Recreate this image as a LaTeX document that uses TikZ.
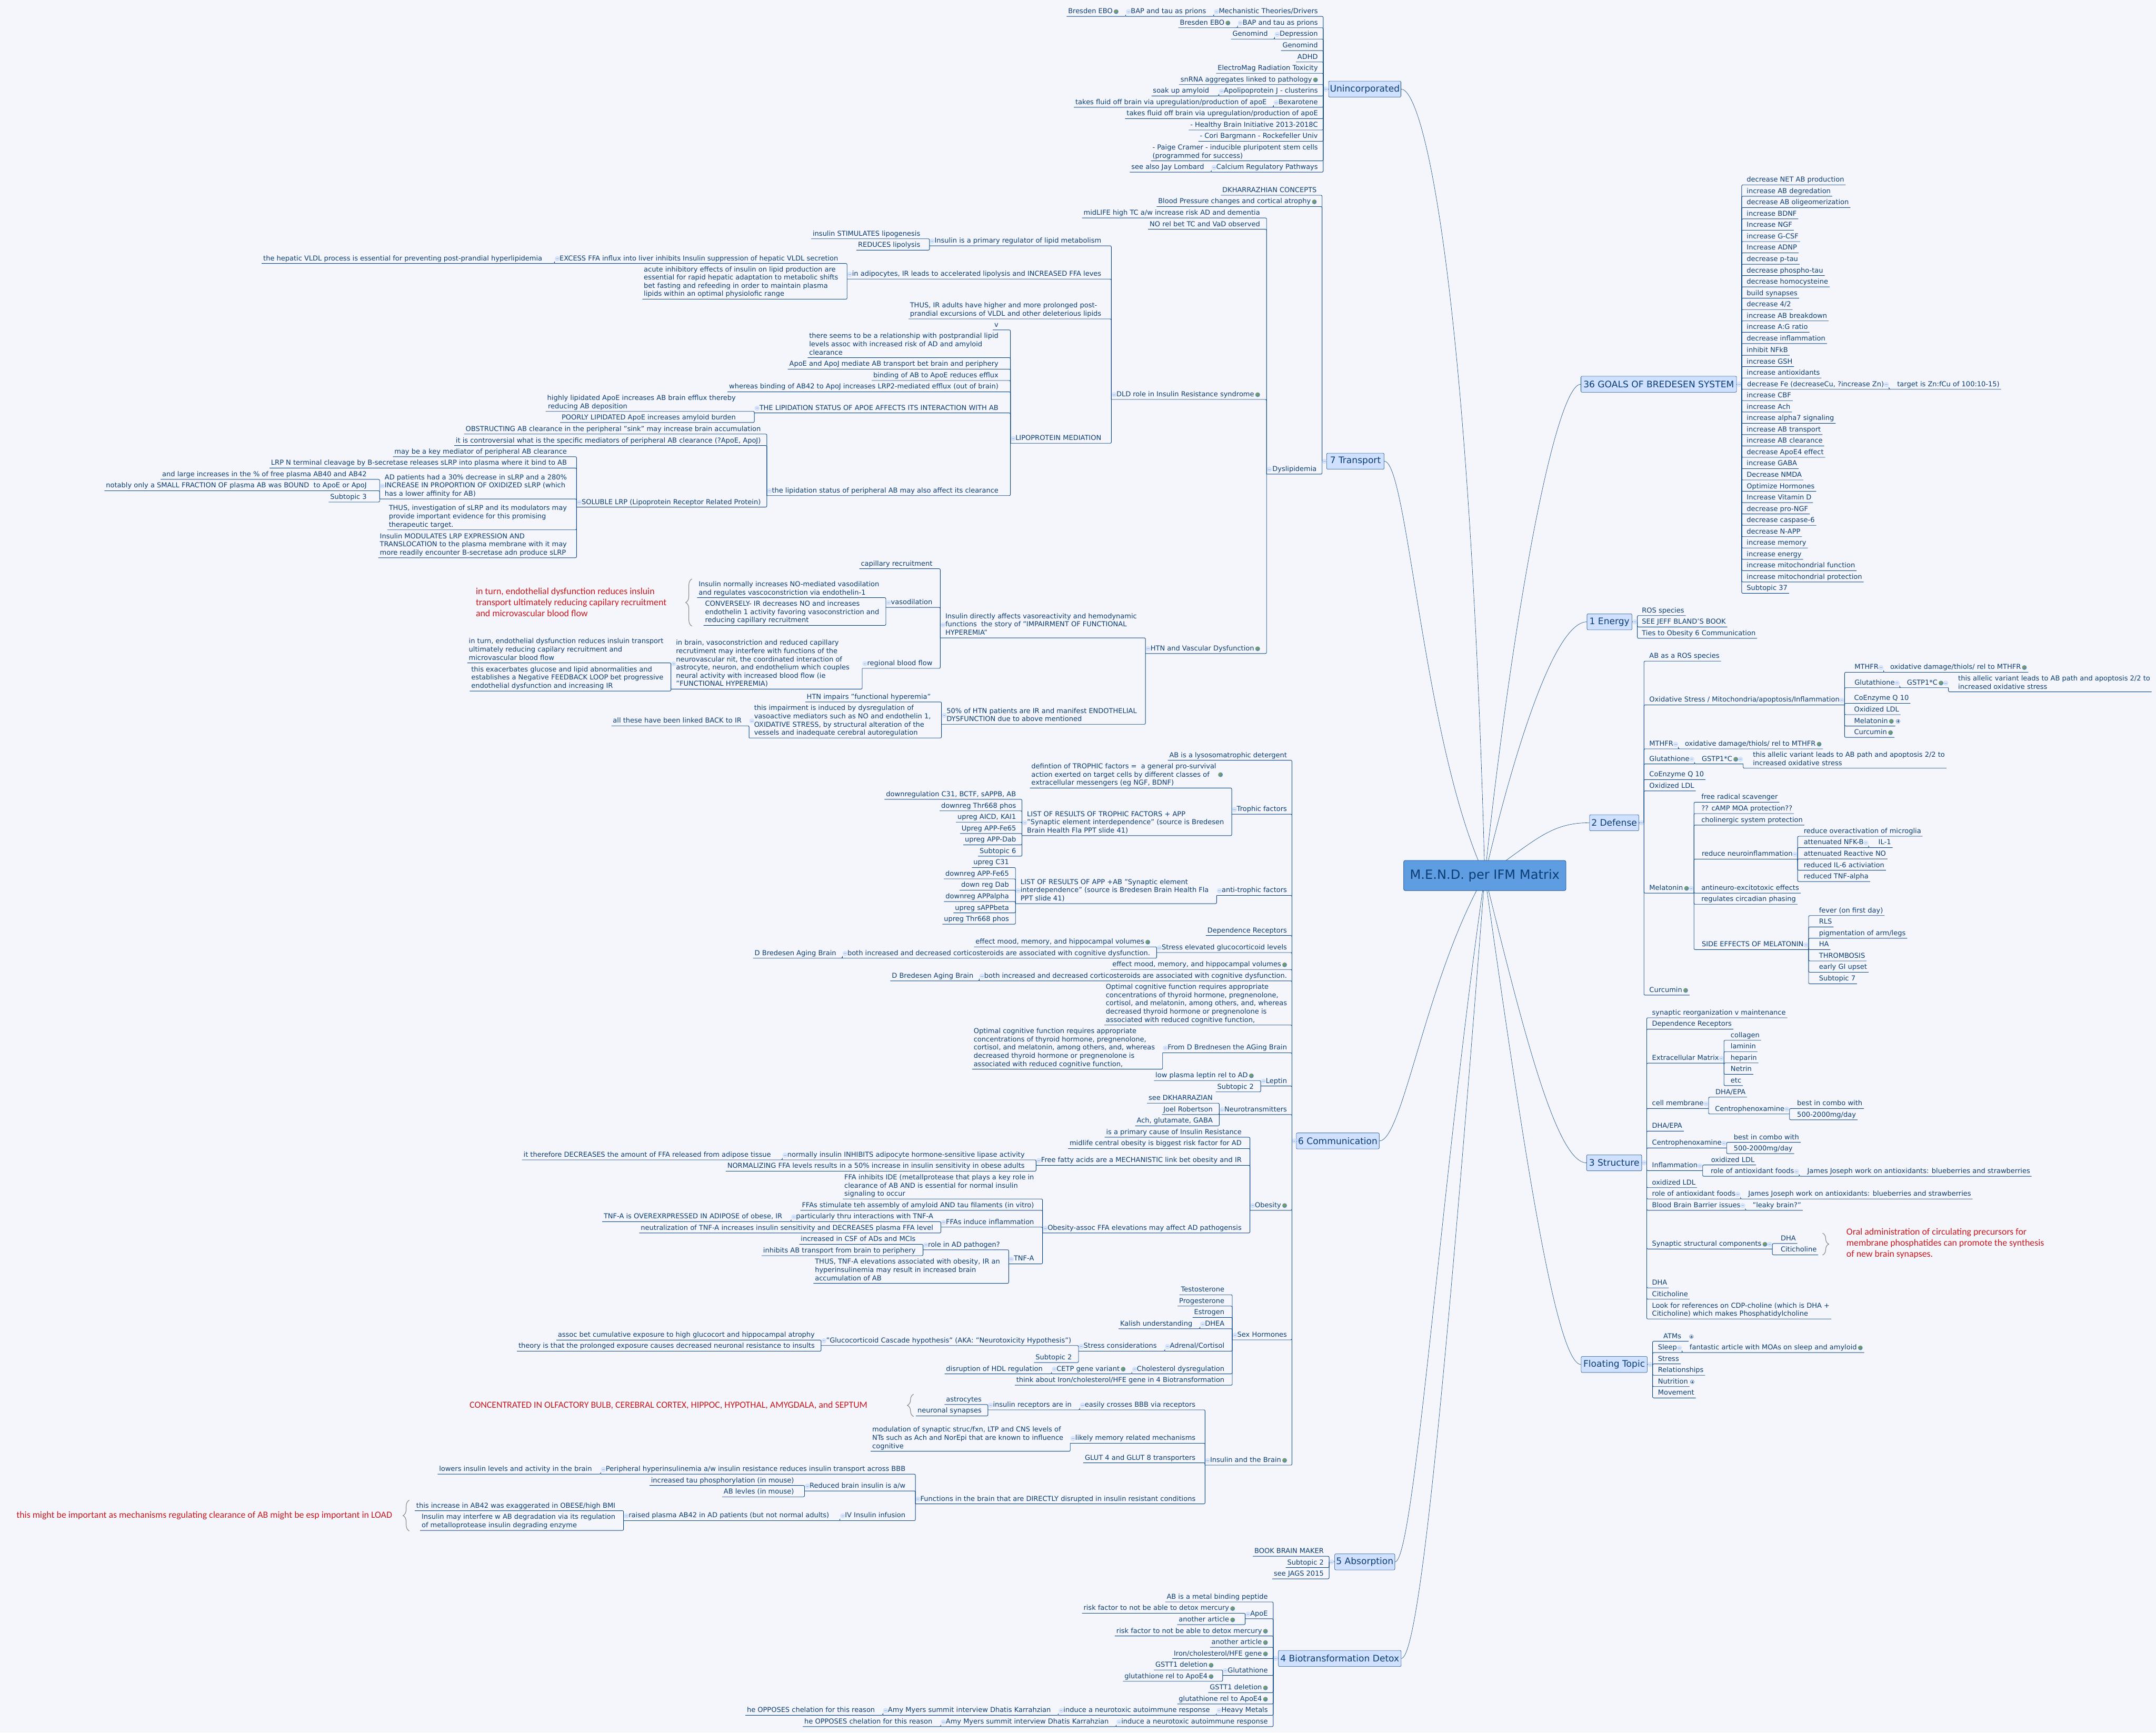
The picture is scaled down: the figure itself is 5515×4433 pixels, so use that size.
\documentclass[tikz,border=0pt]{standalone}
\usepackage{fontspec}
\setmainfont{DejaVu Sans}
\newfontfamily\handfont{Carlito}
\usetikzlibrary{decorations.pathreplacing}

\definecolor{paper}{HTML}{F4F6FC}
\definecolor{inkblue}{HTML}{0B3D73}
\definecolor{linkblue}{HTML}{0A4583}
\definecolor{boxfill}{HTML}{D0E0FF}
\definecolor{foldfill}{HTML}{D9E6FC}
\definecolor{foldline}{HTML}{BDD2F2}
\definecolor{foldink}{HTML}{8FB0E0}
\definecolor{mendfill}{HTML}{5F9DE3}
\definecolor{redink}{HTML}{C8191E}
\definecolor{sea}{HTML}{5C8DA8}
\definecolor{land}{HTML}{7FA05A}

\tikzstyle{leafbase}=[align=left,text=inkblue,font=\fontsize{17.5}{21}\selectfont,text depth=4pt,inner ysep=3.5pt,outer sep=0pt]
\tikzstyle{fold}=[circle,inner sep=0pt,minimum size=12pt,fill=foldfill,draw=foldline,line width=.4pt,path picture={\draw[foldink,line width=.8pt] ([xshift=-3pt]path picture bounding box.center) -- ([xshift=3pt]path picture bounding box.center);}]
\tikzstyle{foldplus}=[circle,inner sep=0pt,minimum size=10pt,fill=foldfill,draw=inkblue,line width=.4pt,path picture={\draw[inkblue,line width=.6pt] ([xshift=-3pt]path picture bounding box.center) -- ([xshift=3pt]path picture bounding box.center) ([yshift=-3pt]path picture bounding box.center) -- ([yshift=3pt]path picture bounding box.center);}]
\tikzstyle{globeicon}=[circle,inner sep=0pt,minimum size=12pt,fill=sea,path picture={\fill[land] ([shift={(-1pt,1pt)}]path picture bounding box.center) circle (3.5pt);}]
\tikzstyle{lleaf}=[leafbase,anchor=south east,inner xsep=4pt]
\tikzstyle{rleaf}=[leafbase,anchor=south west,inner xsep=4pt]
\tikzstyle{lpar}=[leafbase,anchor=south east,inner xsep=13pt,label={[fold,anchor=center,xshift=7pt]west:{}}]
\tikzstyle{rpar}=[leafbase,anchor=south west,inner xsep=13pt,label={[fold,anchor=center,xshift=-7pt]east:{}}]
\tikzstyle{globe}=[execute at end node=\hspace{15pt},label={[globeicon,anchor=center,xshift=-10pt]east:{}}]
\tikzstyle{pglobe}=[execute at end node=\hspace{15pt},label={[globeicon,anchor=center,xshift=-19pt]east:{}}]
\tikzstyle{plus}=[label={[foldplus,anchor=center,xshift=7pt]east:{}}]
\tikzstyle{topic}=[rectangle,rounded corners=3pt,draw=linkblue,line width=.8pt,fill=boxfill,text=inkblue,font=\fontsize{23}{27}\selectfont,minimum height=41pt,inner xsep=0pt,inner ysep=0pt]
\tikzstyle{central}=[rectangle,rounded corners=4pt,draw=linkblue,line width=1pt,fill=mendfill,text=inkblue,font=\fontsize{32.5}{38}\selectfont,minimum width=415pt,minimum height=77pt]
\tikzstyle{branch}=[draw=linkblue,line width=1.2pt,rounded corners=3pt]
\tikzstyle{curve}=[draw=linkblue,line width=.8pt]
\tikzstyle{curly}=[decorate,decoration={brace,amplitude=16pt},draw=gray,line width=1.4pt]
\tikzstyle{redtext}=[anchor=west,align=left,text=redink,font=\handfont\fontsize{24}{28.5}\selectfont,inner sep=0pt]

\begin{document}
\begin{tikzpicture}[x=1pt,y=-1pt]
    \useasboundingbox (0,0) rectangle (5515,4433);
    \fill[paper] (0,0) rectangle (5515,4433);

    \node (un)[topic,minimum width=185pt] at (3491,228) {Unincorporated};
    \node (unf)[fold] at (3391,228) {};
    \node (tr)[topic,minimum width=147pt] at (3467,1180) {7 Transport};
    \node (trf)[fold] at (3388,1180) {};
    \node (co)[topic,minimum width=212pt] at (3422,2919) {6 Communication};
    \node (cof)[fold] at (3311,2919) {};
    \node (ab)[topic,minimum width=154pt] at (3491,3996) {5 Absorption};
    \node (abf)[fold] at (3406,3996) {};
    \node (bt)[topic,minimum width=314pt] at (3427,4243) {4 Biotransformation Detox};
    \node (btf)[fold] at (3263,4243) {};
    \node (gl)[topic,minimum width=398pt] at (4243,983) {36 GOALS OF BREDESEN SYSTEM};
    \node (glf)[fold] at (4449,983) {};
    \node (en)[topic,minimum width=115pt] at (4117,1591) {1 Energy};
    \node (enf)[fold] at (4182,1591) {};
    \node (de)[topic,minimum width=126pt] at (4129,2105) {2 Defense};
    \node (def)[fold] at (4199,2105) {};
    \node (st)[topic,minimum width=141pt] at (4129,2975) {3 Structure};
    \node (stf)[fold] at (4206,2975) {};
    \node (fl)[topic,minimum width=169pt] at (4129,3491) {Floating Topic};
    \node (flf)[fold] at (4221,3491) {};

    \node (un1)[lpar] at (3384,42) {Mechanistic Theories/Drivers};
    \node (un1a)[lpar] at (3098,42) {BAP and tau as prions};
    \node (un1b)[lleaf,globe] at (2865,42) {Bresden EBO};
    \node (un2)[lpar] at (3384,71) {BAP and tau as prions};
    \node (un2a)[lleaf,globe] at (3151,71) {Bresden EBO};
    \node (un3)[lpar] at (3384,100) {Depression};
    \node (un3a)[lleaf] at (3247,100) {Genomind};
    \node (un4)[lleaf] at (3375,129.5) {Genomind};
    \node (un5)[lleaf] at (3375,158.5) {ADHD};
    \node (un6)[lleaf] at (3375,187.5) {ElectroMag Radiation Toxicity};
    \node (un7)[lleaf,globe] at (3375,216.5) {snRNA aggregates linked to pathology};
    \node (un8)[lpar] at (3384,245.5) {Apolipoprotein J - clusterins};
    \node (un8a)[lleaf] at (3097,245.5) {soak up amyloid};
    \node (un9)[lpar] at (3384,274.5) {Bexarotene};
    \node (un9a)[lleaf] at (3244,274.5) {takes fluid off brain via upregulation/production of apoE};
    \node (un10)[lleaf] at (3375,303.5) {takes fluid off brain via upregulation/production of apoE};
    \node (un11)[lleaf] at (3375,332.5) {- Healthy Brain Initiative 2013-2018C};
    \node (un12)[lleaf] at (3375,361.5) {- Cori Bargmann - Rockefeller Univ};
    \node (un13)[lleaf] at (3375,411.5) {- Paige Cramer - inducible pluripotent stem cells\\(programmed for success)};
    \node (un14)[lpar] at (3384,440.5) {Calcium Regulatory Pathways};
    \node (un14a)[lleaf] at (3084,440.5) {see also Jay Lombard};

    \node (tr1)[lleaf] at (3372,499.5) {DKHARRAZHIAN CONCEPTS};
    \node (tr2)[lleaf,globe] at (3372,528.5) {Blood Pressure changes and cortical atrophy};
    \node (dy)[lpar] at (3381,1213) {\hspace{2pt}Dyslipidemia};
    \node (dy1)[lleaf] at (3227,557.5) {midLIFE high TC a/w increase risk AD and dementia};
    \node (dy2)[lleaf] at (3227,586.5) {NO rel bet TC and VaD observed};
    \node (dl)[lpar,pglobe] at (3236,1022) {DLD role in Insulin Resistance syndrome};
    \node (ht)[lpar,pglobe] at (3236,1672) {HTN and Vascular Dysfunction};

    \node (dl1)[lpar] at (2830,629) {Insulin is a primary regulator of lipid metabolism};
    \node (dl1a)[lleaf] at (2358,611) {insulin STIMULATES lipogenesis};
    \node (dl1b)[lleaf] at (2358,640) {REDUCES lipolysis};
    \node (dl2)[lpar] at (2830,714) {in adipocytes, IR leads to accelerated lipolysis and INCREASED FFA leves};
    \node (dl2a)[lpar] at (2157,674) {EXCESS FFA influx into liver inhibits Insulin suppression of hepatic VLDL secretion};
    \node (dl2b)[lleaf] at (1391,674) {the hepatic VLDL process is essential for preventing post-prandial hyperlipidemia};
    \node (dl2c)[lleaf] at (2148,765.5) {acute inhibitory effects of insulin on lipid production are\\essential for rapid hepatic adaptation to metabolic shifts\\bet fasting and refeeding in order to maintain plasma\\lipids within an optimal physiolofic range};
    \node (dl3)[lleaf] at (2821,816) {THUS, IR adults have higher and more prolonged post-\\prandial excursions of VLDL and other deleterious lipids};
    \node (lm)[lpar] at (2830,1134) {LIPOPROTEIN MEDIATION};
    \node (lm1)[lleaf] at (2558,844) {v};
    \node (lm2)[lleaf] at (2558,915) {there seems to be a relationship with postprandial lipid\\levels assoc with increased risk of AD and amyloid\\clearance};
    \node (lm3)[lleaf] at (2558,944.5) {ApoE and ApoJ mediate AB transport bet brain and periphery};
    \node (lm4)[lleaf] at (2558,973.5) {binding of AB to ApoE reduces efflux};
    \node (lm5)[lleaf] at (2558,1002.5) {whereas binding of AB42 to ApoJ increases LRP2-mediated efflux (out of brain)};
    \node (ls)[lpar] at (2567,1056.5) {THE LIPIDATION STATUS OF APOE AFFECTS ITS INTERACTION WITH AB};
    \node (ls1)[lleaf] at (1886,1052.5) {highly lipidated ApoE increases AB brain efflux thereby\\\hspace{2pt}reducing AB deposition};
    \node (ls2)[lleaf] at (1886,1081) {POORLY LIPIDATED ApoE increases amyloid burden};
    \node (lp)[lpar] at (2567,1268) {the lipidation status of peripheral AB may also affect its clearance};
    \node (lp1)[lleaf] at (1950,1110.5) {OBSTRUCTING AB clearance in the peripheral "sink" may increase brain accumulation};
    \node (lp2)[lleaf] at (1950,1140) {it is controversial what is the specific mediators of peripheral AB clearance (?ApoE, ApoJ)};
    \node (sl)[lpar] at (1959,1297.5) {SOLUBLE LRP (Lipoprotein Receptor Related Protein)};
    \node (sl1)[lleaf] at (1454,1168.5) {may be a key mediator of peripheral AB clearance};
    \node (sl2)[lleaf] at (1454,1197.5) {LRP N terminal cleavage by B-secretase releases sLRP into plasma where it bind to AB};
    \node (sl3)[lpar] at (1463,1276.5) {AD patients had a 30\% decrease in sLRP and a 280\%\\INCREASE IN PROPORTION OF OXIDIZED sLRP (which\\has a lower affinity for AB)};
    \node (sl3a)[lleaf] at (942,1226.5) {and large increases in the \% of free plasma AB40 and AB42};
    \node (sl3b)[lleaf] at (942,1255.5) {notably only a SMALL FRACTION OF plasma AB was BOUND\ \ to ApoE or ApoJ};
    \node (sl3c)[lleaf] at (942,1284.5) {Subtopic 3};
    \node (sl4)[lleaf] at (1454,1355.5) {THUS, investigation of sLRP and its modulators may\\provide important evidence for this promising\\therapeutic target.};
    \node (sl5)[lleaf] at (1454,1427) {Insulin MODULATES LRP EXPRESSION AND\\TRANSLOCATION to the plasma membrane with it may\\more readily encounter B-secretase adn produce sLRP};

    \node (ht1)[lpar] at (2921,1632) {Insulin directly affects vasoreactivity and hemodynamic\\functions\ \ the story of "IMPAIRMENT OF FUNCTIONAL\\HYPEREMIA"};
    \node (ht1a)[lleaf] at (2389,1455) {capillary recruitment};
    \node (vd)[lpar] at (2398,1554) {vasodilation};
    \node (vd1)[lleaf] at (2253,1529) {Insulin normally increases NO-mediated vasodilation\\and regulates vascoconstriction via endothelin-1};
    \node (vd2)[lleaf] at (2253,1600) {CONVERSELY- IR decreases NO and increases\\endothelin 1 activity favoring vasoconstriction and\\reducing capillary recruitment};
    \node (rb)[lpar] at (2398,1710) {regional blood flow};
    \node (rb1)[lpar] at (2186,1763) {in brain, vasoconstriction and reduced capillary\\recrutiment may interfere with functions of the\\neurovascular nit, the coordinated interaction of\\astrocyte, neuron, and endothelium which couples\\neural activity with increased blood flow (ie\\"FUNCTIONAL HYPEREMIA)};
    \node (rb1a)[lleaf] at (1701,1696) {in turn, endothelial dysfunction reduces insluin transport\\ultimately reducing capilary recruitment and\\microvascular blood flow};
    \node (rb1b)[lleaf] at (1701,1768) {this exacerbates glucose and lipid abnormalities and\\establishes a Negative FEEDBACK LOOP bet progressive\\endothelial dysfunction and increasing IR};
    \node (ht2)[lpar] at (2921,1853) {50\% of HTN patients are IR and manifest ENDOTHELIAL\\DYSFUNCTION due to above mentioned};
    \node (ht2a)[lleaf] at (2385,1796) {HTN impairs "functional hyperemia"};
    \node (ht2b)[lpar] at (2394,1888) {this impairment is induced by dysregulation of\\vasoactive mediators such as NO and endothelin 1,\\OXIDATIVE STRESS, by structural alteration of the\\vessels and inadequate cerebral autoregulation};
    \node (ht2c)[lleaf] at (1901,1857) {all these have been linked BACK to IR};
    \node (rd1)[redtext] at (1217,1541) {in turn, endothelial dysfunction reduces insluin\\transport ultimately reducing capilary recruitment\\and microvascular blood flow};

    \node (co1)[lleaf] at (3296,1945) {AB is a lysosomatrophic detergent};
    \node (tf)[lpar] at (3305,2083) {Trophic factors};
    \node (tf1)[lleaf] at (3115,2016) {defintion of TROPHIC factors =\ \ a general pro-survival\\action exerted on target cells by different classes of\\extracellular messengers (eg NGF, BDNF)};
    \node (tf1g)[globeicon] at (3122,1982) {};
    \node (tf2)[lpar] at (3144,2138) {LIST OF RESULTS OF TROPHIC FACTORS + APP\\"Synaptic element interdependence" (source is Bredesen\\Brain Health Fla PPT slide 41)};
    \node (tf2a)[lleaf] at (2603,2045) {downregulation C31, BCTF, sAPPB, AB};
    \node (tf2b)[lleaf] at (2603,2074.5) {downreg Thr668 phos};
    \node (tf2c)[lleaf] at (2603,2103.5) {upreg AICD, KAI1};
    \node (tf2d)[lleaf] at (2603,2132.5) {Upreg APP-Fe65};
    \node (tf2e)[lleaf] at (2603,2161.5) {upreg APP-Dab};
    \node (tf2f)[lleaf] at (2603,2190.5) {Subtopic 6};
    \node (at)[lpar] at (3305,2291) {anti-trophic factors};
    \node (at1)[lpar] at (3105,2312) {LIST OF RESULTS OF APP +AB "Synaptic element\\interdependence" (source is Bredesen Brain Health Fla\\PPT slide 41)};
    \node (at1a)[lleaf] at (2585,2219.5) {upreg C31};
    \node (at1b)[lleaf] at (2585,2248.5) {downreg APP-Fe65};
    \node (at1c)[lleaf] at (2585,2277.5) {down reg Dab};
    \node (at1d)[lleaf] at (2585,2306.5) {downreg APPalpha};
    \node (at1e)[lleaf] at (2585,2335.5) {upreg sAPPbeta};
    \node (at1f)[lleaf] at (2585,2364.5) {upreg Thr668 phos};
    \node (co2)[lleaf] at (3296,2393.5) {Dependence Receptors};
    \node (se)[lpar] at (3305,2437) {Stress elevated glucocorticoid levels};
    \node (se1)[lleaf,globe] at (2946,2422.5) {effect mood, memory, and hippocampal volumes};
    \node (se2)[lpar] at (2955,2451.5) {both increased and decreased corticosteroids are associated with cognitive dysfunction.};
    \node (se2a)[lleaf] at (2143,2451.5) {D Bredesen Aging Brain};
    \node (co3)[lleaf,globe] at (3296,2480.5) {effect mood, memory, and hippocampal volumes};
    \node (co4)[lpar] at (3305,2509.5) {both increased and decreased corticosteroids are associated with cognitive dysfunction.};
    \node (co4a)[lleaf] at (2494,2509.5) {D Bredesen Aging Brain};
    \node (co5)[lleaf] at (3296,2622.5) {Optimal cognitive function requires appropriate\\concentrations of thyroid hormone, pregnenolone,\\cortisol, and melatonin, among others, and, whereas\\decreased thyroid hormone or pregnenolone is\\associated with reduced cognitive function,};
    \node (fd)[lpar] at (3305,2693.5) {From D Brednesen the AGing Brain};
    \node (fd1)[lleaf] at (2958,2735.5) {Optimal cognitive function requires appropriate\\concentrations of thyroid hormone, pregnenolone,\\cortisol, and melatonin, among others, and, whereas\\decreased thyroid hormone or pregnenolone is\\associated with reduced cognitive function,};
    \node (lt)[lpar] at (3305,2778.5) {Leptin};
    \node (lt1)[lleaf,globe] at (3211,2764.5) {low plasma leptin rel to AD};
    \node (lt2)[lleaf] at (3211,2793.5) {Subtopic 2};
    \node (nt)[lpar] at (3305,2851.5) {Neurotransmitters};
    \node (nt1)[lleaf] at (3106,2822.5) {see DKHARRAZIAN};
    \node (nt2)[lleaf] at (3106,2851.5) {Joel Robertson};
    \node (nt3)[lleaf] at (3106,2880.5) {Ach, glutamate, GABA};

    \node (ob)[lpar,pglobe] at (3305,3096.5) {Obesity};
    \node (ob1)[lleaf] at (3180,2909.5) {is a primary cause of Insulin Resistance};
    \node (ob2)[lleaf] at (3180,2938.5) {midlife central obesity is biggest risk factor for AD};
    \node (ff)[lpar] at (3189,2981.5) {Free fatty acids are a MECHANISTIC link bet obesity and IR};
    \node (ff1)[lpar] at (2634,2967.5) {normally insulin INHIBITS adipocyte hormone-sensitive lipase activity};
    \node (ff1a)[lleaf] at (1976,2967.5) {it therefore DECREASES the amount of FFA released from adipose tissue};
    \node (ff2)[lleaf] at (2625,2996.5) {NORMALIZING FFA levels results in a 50\% increase in insulin sensitivity in obese adults};
    \node (oa)[lpar] at (3189,3154.5) {Obesity-assoc FFA elevations may affect AD pathogensis};
    \node (oa1)[lleaf] at (2649,3067.5) {FFA inhibits IDE (metallprotease that plays a key role in\\clearance of AB AND is essential for normal insulin\\signaling to occur};
    \node (oa2)[lleaf] at (2649,3096.5) {FFAs stimulate teh assembly of amyloid AND tau filaments (in vitro)};
    \node (fi)[lpar] at (2658,3139.5) {FFAs induce inflammation};
    \node (fi1)[lpar] at (2400,3125.5) {particularly thru interactions with TNF-A};
    \node (fi1a)[lleaf] at (2005,3125.5) {TNF-A is OVEREXRPRESSED IN ADIPOSE of obese, IR};
    \node (fi2)[lleaf] at (2391,3154.5) {neutralization of TNF-A increases insulin sensitivity and DECREASES plasma FFA level};
    \node (tn)[lpar] at (2658,3233.5) {TNF-A};
    \node (tn1)[lpar] at (2571,3197.5) {role in AD pathogen?};
    \node (tn1a)[lleaf] at (2346,3183.5) {increased in CSF of ADs and MCIs};
    \node (tn1b)[lleaf] at (2346,3212.5) {inhibits AB transport from brain to periphery};
    \node (tn2)[lleaf] at (2562,3283.5) {THUS, TNF-A elevations associated with obesity, IR an\\hyperinsulinemia may result in increased brain\\accumulation of AB};

    \node (sx)[lpar] at (3305,3428) {Sex Hormones};
    \node (sx1)[lleaf] at (3136,3312.5) {Testosterone};
    \node (sx2)[lleaf] at (3136,3341.5) {Progesterone};
    \node (sx3)[lleaf] at (3136,3370.5) {Estrogen};
    \node (sx4)[lpar] at (3145,3399.5) {DHEA};
    \node (sx4a)[lleaf] at (3054,3399.5) {Kalish understanding};
    \node (sx5)[lpar] at (3145,3457) {Adrenal/Cortisol};
    \node (sc)[lpar] at (2972,3457) {Stress considerations};
    \node (sc1)[lpar] at (2753,3442.5) {"Glucocorticoid Cascade hypothesis" (AKA: "Neurotoxicity Hypothesis")};
    \node (sc1a)[lleaf] at (2088,3428.5) {assoc bet cumulative exposure to high glucocort and hippocampal atrophy};
    \node (sc1b)[lleaf] at (2088,3457) {theory is that the prolonged exposure causes decreased neuronal resistance to insults};
    \node (sc2)[lleaf] at (2746,3486) {Subtopic 2};
    \node (sx6)[lpar] at (3145,3515) {Cholesterol dysregulation};
    \node (sx6a)[lpar,pglobe] at (2892,3515) {CETP gene variant};
    \node (sx6b)[lleaf] at (2671,3515) {disruption of HDL regulation};
    \node (sx7)[lleaf] at (3136,3544) {think about Iron/cholesterol/HFE gene in 4 Biotransformation};

    \node (ib)[lpar,pglobe] at (3305,3748.5) {Insulin and the Brain};
    \node (ib1)[lpar] at (3071,3607) {easily crosses BBB via receptors};
    \node (ib1a)[lpar] at (2754,3607) {insulin receptors are in};
    \node (ib1b)[lleaf] at (2515,3593.5) {astrocytes};
    \node (ib1c)[lleaf] at (2515,3622.5) {neuronal synapses};
    \node (rd2)[redtext] at (1201,3595) {CONCENTRATED IN OLFACTORY BULB, CEREBRAL CORTEX, HIPPOC, HYPOTHAL, AMYGDALA, and SEPTUM};
    \node (ib2)[lpar] at (3071,3692.5) {likely memory related mechanisms};
    \node (ib2a)[lleaf] at (2724,3713) {modulation of synaptic struc/fxn, LTP and CNS levels of\\NTs such as Ach and NorEpi that are known to influence\\cognitive};
    \node (ib3)[lleaf] at (3062,3742.5) {GLUT 4 and GLUT 8 transporters};
    \node (fb)[lpar] at (3071,3847.5) {Functions in the brain that are DIRECTLY disrupted in insulin resistant conditions};
    \node (fb1)[lpar] at (2329,3771.5) {Peripheral hyperinsulinemia a/w insulin resistance reduces insulin transport across BBB};
    \node (fb1a)[lleaf] at (1518,3771.5) {lowers insulin levels and activity in the brain};
    \node (fb2)[lpar] at (2329,3814.5) {Reduced brain insulin is a/w};
    \node (fb2a)[lleaf] at (2035,3800.5) {increased tau phosphorylation (in mouse)};
    \node (fb2b)[lleaf] at (2035,3829.5) {AB levles (in mouse)};
    \node (fb3)[lpar] at (2329,3890.5) {IV Insulin infusion};
    \node (fb3a)[lpar] at (2134,3890.5) {raised plasma AB42 in AD patients (but not normal adults)};
    \node (fb3b)[lleaf] at (1578,3865) {this increase in AB42 was exaggerated in OBESE/high BMI};
    \node (fb3c)[lleaf] at (1578,3915.5) {Insulin may interfere w AB degradation via its regulation\\of metalloprotease insulin degrading enzyme};
    \node (rd3)[redtext] at (42,3877) {this might be important as mechanisms regulating clearance of AB might be esp important in LOAD};

    \node (ab1)[lleaf] at (3390,3981.5) {BOOK BRAIN MAKER};
    \node (ab2)[lleaf] at (3390,4010.5) {Subtopic 2};
    \node (ab3)[lleaf] at (3390,4039.5) {see JAGS 2015};

    \node (bt1)[lleaf] at (3247,4098.5) {AB is a metal binding peptide};
    \node (bt2)[lpar] at (3256,4141.5) {ApoE};
    \node (bt2a)[lleaf,globe] at (3163,4127.5) {risk factor to not be able to detox mercury};
    \node (bt2b)[lleaf,globe] at (3163,4156.5) {another article};
    \node (bt3)[lleaf,globe] at (3247,4185.5) {risk factor to not be able to detox mercury};
    \node (bt4)[lleaf,globe] at (3247,4214.5) {another article};
    \node (bt5)[lleaf,globe] at (3247,4243.5) {Iron/cholesterol/HFE gene};
    \node (bt6)[lpar] at (3256,4286.5) {Glutathione};
    \node (bt6a)[lleaf,globe] at (3108,4272.5) {GSTT1 deletion};
    \node (bt6b)[lleaf,globe] at (3108,4301.5) {glutathione rel to ApoE4};
    \node (bt7)[lleaf,globe] at (3247,4330.5) {GSTT1 deletion};
    \node (bt8)[lleaf,globe] at (3247,4359.5) {glutathione rel to ApoE4};
    \node (bt9)[lpar] at (3256,4388.5) {Heavy Metals};
    \node (bt9a)[lpar] at (3108,4388.5) {induce a neurotoxic autoimmune response};
    \node (bt9b)[lpar] at (2701,4388.5) {Amy Myers summit interview Dhatis Karrahzian};
    \node (bt9c)[lleaf] at (2242,4388.5) {he OPPOSES chelation for this reason};
    \node (bt10)[lpar] at (3256,4417.5) {induce a neurotoxic autoimmune response};
    \node (bt10a)[lpar] at (2849,4417.5) {Amy Myers summit interview Dhatis Karrahzian};
    \node (bt10b)[lleaf] at (2389,4417.5) {he OPPOSES chelation for this reason};

    \node (gl1)[rleaf] at (4464,473) {decrease NET AB production};
    \node (gl2)[rleaf] at (4464,502) {increase AB degredation};
    \node (gl3)[rleaf] at (4464,531) {decrease AB oligeomerization};
    \node (gl4)[rleaf] at (4464,560) {increase BDNF};
    \node (gl5)[rleaf] at (4464,589) {Increase NGF};
    \node (gl6)[rleaf] at (4464,618) {increase G-CSF};
    \node (gl7)[rleaf] at (4464,647) {Increase ADNP};
    \node (gl8)[rleaf] at (4464,676) {decrease p-tau};
    \node (gl9)[rleaf] at (4464,705) {decrease phospho-tau};
    \node (gl10)[rleaf] at (4464,734) {decrease homocysteine};
    \node (gl11)[rleaf] at (4464,763) {build synapses};
    \node (gl12)[rleaf] at (4464,792) {decrease 4/2};
    \node (gl13)[rleaf] at (4464,821) {increase AB breakdown};
    \node (gl14)[rleaf] at (4464,850) {increase A:G ratio};
    \node (gl15)[rleaf] at (4464,879) {decrease inflammation};
    \node (gl16)[rleaf] at (4464,909) {inhibit NFkB};
    \node (gl17)[rleaf] at (4464,938) {increase GSH};
    \node (gl18)[rleaf] at (4464,967) {increase antioxidants};
    \node (gl19)[rpar] at (4456,996) {decrease Fe (decreaseCu, ?increase Zn)};
    \node (gl19a)[rleaf] at (4849,996) {target is Zn:fCu of 100:10-15)};
    \node (gl20)[rleaf] at (4464,1025) {increase CBF};
    \node (gl21)[rleaf] at (4464,1054) {increase Ach};
    \node (gl22)[rleaf] at (4464,1083) {increase alpha7 signaling};
    \node (gl23)[rleaf] at (4464,1112) {increase AB transport};
    \node (gl24)[rleaf] at (4464,1141) {increase AB clearance};
    \node (gl25)[rleaf] at (4464,1170) {decrease ApoE4 effect};
    \node (gl26)[rleaf] at (4464,1199) {increase GABA};
    \node (gl27)[rleaf] at (4464,1228) {Decrease NMDA};
    \node (gl28)[rleaf] at (4464,1257) {Optimize Hormones};
    \node (gl29)[rleaf] at (4464,1286) {Increase Vitamin D};
    \node (gl30)[rleaf] at (4464,1315) {decrease pro-NGF};
    \node (gl31)[rleaf] at (4464,1344) {decrease caspase-6};
    \node (gl32)[rleaf] at (4464,1373) {decrease N-APP};
    \node (gl33)[rleaf] at (4464,1402) {increase memory};
    \node (gl34)[rleaf] at (4464,1431) {increase energy};
    \node (gl35)[rleaf] at (4464,1460) {increase mitochondrial function};
    \node (gl36)[rleaf] at (4464,1489) {increase mitochondrial protection};
    \node (gl37)[rleaf] at (4464,1518) {Subtopic 37};

    \node (en1)[rleaf] at (4196,1575) {ROS species};
    \node (en2)[rleaf] at (4196,1604) {SEE JEFF BLAND'S BOOK};
    \node (en3)[rleaf] at (4196,1633) {Ties to Obesity 6 Communication};

    \node (de1)[rleaf] at (4215,1691.5) {AB as a ROS species};
    \node (ox)[rpar] at (4206,1803.5) {Oxidative Stress / Mitochondria/apoptosis/Inflammation};
    \node (ox1)[rpar] at (4731,1720) {MTHFR};
    \node (ox1a)[rleaf,globe] at (4831,1720) {oxidative damage/thiols/ rel to MTHFR};
    \node (ox2)[rpar] at (4731,1759.5) {Glutathione};
    \node (ox2a)[rpar,pglobe] at (4865,1759.5) {GSTP1*C};
    \node (ox2b)[rleaf] at (5005,1770) {this allelic variant leads to AB path and apoptosis 2/2 to\\increased oxidative stress};
    \node (ox3)[rleaf] at (4739,1799.5) {CoEnzyme Q 10};
    \node (ox4)[rleaf] at (4739,1828.5) {Oxidized LDL};
    \node (ox5)[rleaf,globe,plus] at (4739,1857.5) {Melatonin};
    \node (ox6)[rleaf,globe] at (4739,1886.5) {Curcumin};
    \node (de2)[rpar] at (4206,1916) {MTHFR};
    \node (de2a)[rleaf,globe] at (4306,1916) {oxidative damage/thiols/ rel to MTHFR};
    \node (de3)[rpar] at (4206,1954.5) {Glutathione};
    \node (de3a)[rpar,pglobe] at (4340,1954.5) {GSTP1*C};
    \node (de3b)[rleaf] at (4480,1965.5) {this allelic variant leads to AB path and apoptosis 2/2 to\\increased oxidative stress};
    \node (de4)[rleaf] at (4215,1994.5) {CoEnzyme Q 10};
    \node (de5)[rleaf] at (4215,2023.5) {Oxidized LDL};
    \node (me)[rpar,pglobe] at (4206,2285) {Melatonin};
    \node (me1)[rleaf] at (4348,2052.5) {free radical scavenger};
    \node (me2)[rleaf] at (4348,2081.5) {?? cAMP MOA protection??};
    \node (me3)[rleaf] at (4348,2111) {cholinergic system protection};
    \node (ne)[rpar] at (4340,2198) {reduce neuroinflammation};
    \node (ne1)[rleaf] at (4610,2139.5) {reduce overactivation of microglia};
    \node (ne2)[rpar] at (4601,2168.5) {attenuated NFK-B};
    \node (ne2a)[rleaf] at (4801,2168.5) {IL-1};
    \node (ne3)[rleaf] at (4610,2197.5) {attenuated Reactive NO};
    \node (ne4)[rleaf] at (4610,2226.5) {reduced IL-6 activiation};
    \node (ne5)[rleaf] at (4610,2255.5) {reduced TNF-alpha};
    \node (me4)[rleaf] at (4348,2285) {antineuro-excitotoxic effects};
    \node (me5)[rleaf] at (4348,2313.5) {regulates circadian phasing};
    \node (sd)[rpar] at (4340,2429.5) {SIDE EFFECTS OF MELATONIN};
    \node (sd1)[rleaf] at (4649,2342.5) {fever (on first day)};
    \node (sd2)[rleaf] at (4649,2371.5) {RLS};
    \node (sd3)[rleaf] at (4649,2400.5) {pigmentation of arm/legs};
    \node (sd4)[rleaf] at (4649,2429.5) {HA};
    \node (sd5)[rleaf] at (4649,2458.5) {THROMBOSIS};
    \node (sd6)[rleaf] at (4649,2487.5) {early GI upset};
    \node (sd7)[rleaf] at (4649,2517) {Subtopic 7};
    \node (de6)[rleaf,globe] at (4215,2546) {Curcumin};

    \node (st1)[rleaf] at (4222,2604) {synaptic reorganization v maintenance};
    \node (st2)[rleaf] at (4222,2633) {Dependence Receptors};
    \node (em)[rpar] at (4213,2720) {Extracellular Matrix};
    \node (em1)[rleaf] at (4423,2661.5) {collagen};
    \node (em2)[rleaf] at (4423,2690.5) {laminin};
    \node (em3)[rleaf] at (4423,2719.5) {heparin};
    \node (em4)[rleaf] at (4423,2748.5) {Netrin};
    \node (em5)[rleaf] at (4423,2777.5) {etc};
    \node (cm)[rpar] at (4213,2836) {cell membrane};
    \node (cm1)[rleaf] at (4384,2807) {DHA/EPA};
    \node (cm2)[rpar] at (4374,2850) {Centrophenoxamine};
    \node (cm2a)[rleaf] at (4593,2836) {best in combo with};
    \node (cm2b)[rleaf] at (4593,2865) {500-2000mg/day};
    \node (st3)[rleaf] at (4222,2894) {DHA/EPA};
    \node (st4)[rpar] at (4213,2937) {Centrophenoxamine};
    \node (st4a)[rleaf] at (4431,2922.5) {best in combo with};
    \node (st4b)[rleaf] at (4431,2951.5) {500-2000mg/day};
    \node (in)[rpar] at (4213,2995) {Inflammation};
    \node (in1)[rleaf] at (4373,2980.5) {oxidized LDL};
    \node (in2)[rpar] at (4363,3009.5) {role of antioxidant foods};
    \node (in2a)[rleaf] at (4619,3009.5) {James Joseph work on antioxidants: blueberries and strawberries};
    \node (st5)[rleaf] at (4222,3038.5) {oxidized LDL};
    \node (st6)[rpar] at (4213,3067.5) {role of antioxidant foods};
    \node (st6a)[rleaf] at (4468,3067.5) {James Joseph work on antioxidants: blueberries and strawberries};
    \node (st7)[rpar] at (4213,3096.5) {Blood Brain Barrier issues};
    \node (st7a)[rleaf] at (4479,3096.5) {"leaky brain?"};
    \node (sy)[rpar,pglobe] at (4213,3195.5) {Synaptic structural components};
    \node (sy1)[rleaf] at (4551,3181.5) {DHA};
    \node (sy2)[rleaf] at (4551,3210.5) {Citicholine};
    \node (rd4)[redtext] at (4723,3181) {Oral administration of circulating precursors for\\membrane phosphatides can promote the synthesis\\of new brain synapses.};
    \node (st8)[rleaf] at (4222,3295) {DHA};
    \node (st9)[rleaf] at (4222,3324) {Citicholine};
    \node (st10)[rleaf] at (4222,3374.5) {Look for references on CDP-choline (which is DHA +\\Citicholine) which makes Phosphatidylcholine};

    \node (fl1)[rleaf,plus] at (4237,3431.5) {\hspace{14pt}ATMs\hspace{15pt}};
    \node (fl2)[rpar] at (4228,3460.5) {Sleep};
    \node (fl2a)[rleaf,globe] at (4318,3460.5) {fantastic article with MOAs on sleep and amyloid};
    \node (fl3)[rleaf] at (4237,3489.5) {Stress};
    \node (fl4)[rleaf] at (4237,3518.5) {Relationships};
    \node (fl5)[rleaf,plus] at (4237,3547.5) {Nutrition};
    \node (fl6)[rleaf] at (4237,3576.5) {Movement};

    \draw[curly] (1770,1602) -- (1770,1481);
    \draw[curly] (2337,3624) -- (2337,3567);
    \draw[curly] (1047,3917) -- (1047,3838);
    \draw[curly] (4662,3155) -- (4662,3211);

    \draw[branch] (unf.east) -- (un.west);
    \draw[branch] (un1b.south west) -| (un1a.south west);
    \draw[branch] (un1a.south west) -| (un1.south west);
    \draw[branch] (un2a.south west) -| (un2.south west);
    \draw[branch] (un3a.south west) -| (un3.south west);
    \draw[branch] (un8a.south west) -| (un8.south west);
    \draw[branch] (un9a.south west) -| (un9.south west);
    \draw[branch] (un14a.south west) -| (un14.south west);
    \draw[branch] (un1.south west) -| (unf.west);
    \draw[branch] (un2.south west) -| (unf.west);
    \draw[branch] (un3.south west) -| (unf.west);
    \draw[branch] (un4.south west) -| (unf.west);
    \draw[branch] (un5.south west) -| (unf.west);
    \draw[branch] (un6.south west) -| (unf.west);
    \draw[branch] (un7.south west) -| (unf.west);
    \draw[branch] (un8.south west) -| (unf.west);
    \draw[branch] (un9.south west) -| (unf.west);
    \draw[branch] (un10.south west) -| (unf.west);
    \draw[branch] (un11.south west) -| (unf.west);
    \draw[branch] (un12.south west) -| (unf.west);
    \draw[branch] (un13.south west) -| (unf.west);
    \draw[branch] (un14.south west) -| (unf.west);

    \draw[branch] (trf.east) -- (tr.west);
    \draw[branch] (tr1.south west) -| (trf.west);
    \draw[branch] (tr2.south west) -| (trf.west);
    \draw[branch] (dy.south west) -| (trf.west);
    \draw[branch] (dy1.south west) -| (dy.south west);
    \draw[branch] (dy2.south west) -| (dy.south west);
    \draw[branch] (dl.south west) -| (dy.south west);
    \draw[branch] (ht.south west) -| (dy.south west);
    \draw[branch] (dl1.south west) -| (dl.south west);
    \draw[branch] (dl2.south west) -| (dl.south west);
    \draw[branch] (dl3.south west) -| (dl.south west);
    \draw[branch] (lm.south west) -| (dl.south west);
    \draw[branch] (dl1a.south west) -| (dl1.south west);
    \draw[branch] (dl1b.south west) -| (dl1.south west);
    \draw[branch] (dl2a.south west) -| (dl2.south west);
    \draw[branch] (dl2c.south west) -| (dl2.south west);
    \draw[branch] (dl2b.south west) -| (dl2a.south west);
    \draw[branch] (lm1.south west) -| (lm.south west);
    \draw[branch] (lm2.south west) -| (lm.south west);
    \draw[branch] (lm3.south west) -| (lm.south west);
    \draw[branch] (lm4.south west) -| (lm.south west);
    \draw[branch] (lm5.south west) -| (lm.south west);
    \draw[branch] (ls.south west) -| (lm.south west);
    \draw[branch] (lp.south west) -| (lm.south west);
    \draw[branch] (ls1.south west) -| (ls.south west);
    \draw[branch] (ls2.south west) -| (ls.south west);
    \draw[branch] (lp1.south west) -| (lp.south west);
    \draw[branch] (lp2.south west) -| (lp.south west);
    \draw[branch] (sl.south west) -| (lp.south west);
    \draw[branch] (sl1.south west) -| (sl.south west);
    \draw[branch] (sl2.south west) -| (sl.south west);
    \draw[branch] (sl3.south west) -| (sl.south west);
    \draw[branch] (sl4.south west) -| (sl.south west);
    \draw[branch] (sl5.south west) -| (sl.south west);
    \draw[branch] (sl3a.south west) -| (sl3.south west);
    \draw[branch] (sl3b.south west) -| (sl3.south west);
    \draw[branch] (sl3c.south west) -| (sl3.south west);
    \draw[branch] (ht1.south west) -| (ht.south west);
    \draw[branch] (ht2.south west) -| (ht.south west);
    \draw[branch] (ht1a.south west) -| (ht1.south west);
    \draw[branch] (vd.south west) -| (ht1.south west);
    \draw[branch] (rb.south west) -| (ht1.south west);
    \draw[branch] (vd1.south west) -| (vd.south west);
    \draw[branch] (vd2.south west) -| (vd.south west);
    \draw[branch] (rb1.south west) -| (rb.south west);
    \draw[branch] (rb1a.south west) -| (rb1.south west);
    \draw[branch] (rb1b.south west) -| (rb1.south west);
    \draw[branch] (ht2a.south west) -| (ht2.south west);
    \draw[branch] (ht2b.south west) -| (ht2.south west);
    \draw[branch] (ht2c.south west) -| (ht2b.south west);

    \draw[branch] (cof.east) -- (co.west);
    \draw[branch] (co1.south west) -| (cof.west);
    \draw[branch] (tf.south west) -| (cof.west);
    \draw[branch] (at.south west) -| (cof.west);
    \draw[branch] (co2.south west) -| (cof.west);
    \draw[branch] (se.south west) -| (cof.west);
    \draw[branch] (co3.south west) -| (cof.west);
    \draw[branch] (co4.south west) -| (cof.west);
    \draw[branch] (co5.south west) -| (cof.west);
    \draw[branch] (fd.south west) -| (cof.west);
    \draw[branch] (lt.south west) -| (cof.west);
    \draw[branch] (nt.south west) -| (cof.west);
    \draw[branch] (ob.south west) -| (cof.west);
    \draw[branch] (sx.south west) -| (cof.west);
    \draw[branch] (ib.south west) -| (cof.west);
    \draw[branch] (tf1.south west) -| (tf.south west);
    \draw[branch] (tf2.south west) -| (tf.south west);
    \draw[branch] (tf2a.south west) -| (tf2.south west);
    \draw[branch] (tf2b.south west) -| (tf2.south west);
    \draw[branch] (tf2c.south west) -| (tf2.south west);
    \draw[branch] (tf2d.south west) -| (tf2.south west);
    \draw[branch] (tf2e.south west) -| (tf2.south west);
    \draw[branch] (tf2f.south west) -| (tf2.south west);
    \draw[branch] (at1.south west) -| (at.south west);
    \draw[branch] (at1a.south west) -| (at1.south west);
    \draw[branch] (at1b.south west) -| (at1.south west);
    \draw[branch] (at1c.south west) -| (at1.south west);
    \draw[branch] (at1d.south west) -| (at1.south west);
    \draw[branch] (at1e.south west) -| (at1.south west);
    \draw[branch] (at1f.south west) -| (at1.south west);
    \draw[branch] (se1.south west) -| (se.south west);
    \draw[branch] (se2.south west) -| (se.south west);
    \draw[branch] (se2a.south west) -| (se2.south west);
    \draw[branch] (co4a.south west) -| (co4.south west);
    \draw[branch] (fd1.south west) -| (fd.south west);
    \draw[branch] (lt1.south west) -| (lt.south west);
    \draw[branch] (lt2.south west) -| (lt.south west);
    \draw[branch] (nt1.south west) -| (nt.south west);
    \draw[branch] (nt2.south west) -| (nt.south west);
    \draw[branch] (nt3.south west) -| (nt.south west);
    \draw[branch] (ob1.south west) -| (ob.south west);
    \draw[branch] (ob2.south west) -| (ob.south west);
    \draw[branch] (ff.south west) -| (ob.south west);
    \draw[branch] (oa.south west) -| (ob.south west);
    \draw[branch] (ff1.south west) -| (ff.south west);
    \draw[branch] (ff2.south west) -| (ff.south west);
    \draw[branch] (ff1a.south west) -| (ff1.south west);
    \draw[branch] (oa1.south west) -| (oa.south west);
    \draw[branch] (oa2.south west) -| (oa.south west);
    \draw[branch] (fi.south west) -| (oa.south west);
    \draw[branch] (tn.south west) -| (oa.south west);
    \draw[branch] (fi1.south west) -| (fi.south west);
    \draw[branch] (fi2.south west) -| (fi.south west);
    \draw[branch] (fi1a.south west) -| (fi1.south west);
    \draw[branch] (tn1.south west) -| (tn.south west);
    \draw[branch] (tn2.south west) -| (tn.south west);
    \draw[branch] (tn1a.south west) -| (tn1.south west);
    \draw[branch] (tn1b.south west) -| (tn1.south west);
    \draw[branch] (sx1.south west) -| (sx.south west);
    \draw[branch] (sx2.south west) -| (sx.south west);
    \draw[branch] (sx3.south west) -| (sx.south west);
    \draw[branch] (sx4.south west) -| (sx.south west);
    \draw[branch] (sx5.south west) -| (sx.south west);
    \draw[branch] (sx6.south west) -| (sx.south west);
    \draw[branch] (sx7.south west) -| (sx.south west);
    \draw[branch] (sx4a.south west) -| (sx4.south west);
    \draw[branch] (sc.south west) -| (sx5.south west);
    \draw[branch] (sc1.south west) -| (sc.south west);
    \draw[branch] (sc2.south west) -| (sc.south west);
    \draw[branch] (sc1a.south west) -| (sc1.south west);
    \draw[branch] (sc1b.south west) -| (sc1.south west);
    \draw[branch] (sx6a.south west) -| (sx6.south west);
    \draw[branch] (sx6b.south west) -| (sx6a.south west);
    \draw[branch] (ib1.south west) -| (ib.south west);
    \draw[branch] (ib2.south west) -| (ib.south west);
    \draw[branch] (ib3.south west) -| (ib.south west);
    \draw[branch] (fb.south west) -| (ib.south west);
    \draw[branch] (ib1a.south west) -| (ib1.south west);
    \draw[branch] (ib1b.south west) -| (ib1a.south west);
    \draw[branch] (ib1c.south west) -| (ib1a.south west);
    \draw[branch] (ib2a.south west) -| (ib2.south west);
    \draw[branch] (fb1.south west) -| (fb.south west);
    \draw[branch] (fb2.south west) -| (fb.south west);
    \draw[branch] (fb3.south west) -| (fb.south west);
    \draw[branch] (fb1a.south west) -| (fb1.south west);
    \draw[branch] (fb2a.south west) -| (fb2.south west);
    \draw[branch] (fb2b.south west) -| (fb2.south west);
    \draw[branch] (fb3a.south west) -| (fb3.south west);
    \draw[branch] (fb3b.south west) -| (fb3a.south west);
    \draw[branch] (fb3c.south west) -| (fb3a.south west);

    \draw[branch] (abf.east) -- (ab.west);
    \draw[branch] (ab1.south west) -| (abf.west);
    \draw[branch] (ab2.south west) -| (abf.west);
    \draw[branch] (ab3.south west) -| (abf.west);

    \draw[branch] (btf.east) -- (bt.west);
    \draw[branch] (bt1.south west) -| (btf.west);
    \draw[branch] (bt2.south west) -| (btf.west);
    \draw[branch] (bt3.south west) -| (btf.west);
    \draw[branch] (bt4.south west) -| (btf.west);
    \draw[branch] (bt5.south west) -| (btf.west);
    \draw[branch] (bt6.south west) -| (btf.west);
    \draw[branch] (bt7.south west) -| (btf.west);
    \draw[branch] (bt8.south west) -| (btf.west);
    \draw[branch] (bt9.south west) -| (btf.west);
    \draw[branch] (bt10.south west) -| (btf.west);
    \draw[branch] (bt2a.south west) -| (bt2.south west);
    \draw[branch] (bt2b.south west) -| (bt2.south west);
    \draw[branch] (bt6a.south west) -| (bt6.south west);
    \draw[branch] (bt6b.south west) -| (bt6.south west);
    \draw[branch] (bt9a.south west) -| (bt9.south west);
    \draw[branch] (bt9b.south west) -| (bt9a.south west);
    \draw[branch] (bt9c.south west) -| (bt9b.south west);
    \draw[branch] (bt10a.south west) -| (bt10.south west);
    \draw[branch] (bt10b.south west) -| (bt10a.south west);

    \draw[branch] (gl.east) -- (glf.west);
    \draw[branch] (gl1.south east) -| (glf.east);
    \draw[branch] (gl2.south east) -| (glf.east);
    \draw[branch] (gl3.south east) -| (glf.east);
    \draw[branch] (gl4.south east) -| (glf.east);
    \draw[branch] (gl5.south east) -| (glf.east);
    \draw[branch] (gl6.south east) -| (glf.east);
    \draw[branch] (gl7.south east) -| (glf.east);
    \draw[branch] (gl8.south east) -| (glf.east);
    \draw[branch] (gl9.south east) -| (glf.east);
    \draw[branch] (gl10.south east) -| (glf.east);
    \draw[branch] (gl11.south east) -| (glf.east);
    \draw[branch] (gl12.south east) -| (glf.east);
    \draw[branch] (gl13.south east) -| (glf.east);
    \draw[branch] (gl14.south east) -| (glf.east);
    \draw[branch] (gl15.south east) -| (glf.east);
    \draw[branch] (gl16.south east) -| (glf.east);
    \draw[branch] (gl17.south east) -| (glf.east);
    \draw[branch] (gl18.south east) -| (glf.east);
    \draw[branch] (gl19a.south east) -| (gl19.south east);
    \draw[branch] (gl19.south east) -| (glf.east);
    \draw[branch] (gl20.south east) -| (glf.east);
    \draw[branch] (gl21.south east) -| (glf.east);
    \draw[branch] (gl22.south east) -| (glf.east);
    \draw[branch] (gl23.south east) -| (glf.east);
    \draw[branch] (gl24.south east) -| (glf.east);
    \draw[branch] (gl25.south east) -| (glf.east);
    \draw[branch] (gl26.south east) -| (glf.east);
    \draw[branch] (gl27.south east) -| (glf.east);
    \draw[branch] (gl28.south east) -| (glf.east);
    \draw[branch] (gl29.south east) -| (glf.east);
    \draw[branch] (gl30.south east) -| (glf.east);
    \draw[branch] (gl31.south east) -| (glf.east);
    \draw[branch] (gl32.south east) -| (glf.east);
    \draw[branch] (gl33.south east) -| (glf.east);
    \draw[branch] (gl34.south east) -| (glf.east);
    \draw[branch] (gl35.south east) -| (glf.east);
    \draw[branch] (gl36.south east) -| (glf.east);
    \draw[branch] (gl37.south east) -| (glf.east);

    \draw[branch] (en.east) -- (enf.west);
    \draw[branch] (en1.south east) -| (enf.east);
    \draw[branch] (en2.south east) -| (enf.east);
    \draw[branch] (en3.south east) -| (enf.east);

    \draw[branch] (de.east) -- (def.west);
    \draw[branch] (de1.south east) -| (def.east);
    \draw[branch] (ox.south east) -| (def.east);
    \draw[branch] (de2.south east) -| (def.east);
    \draw[branch] (de3.south east) -| (def.east);
    \draw[branch] (de4.south east) -| (def.east);
    \draw[branch] (de5.south east) -| (def.east);
    \draw[branch] (me.south east) -| (def.east);
    \draw[branch] (de6.south east) -| (def.east);
    \draw[branch] (ox1.south east) -| (ox.south east);
    \draw[branch] (ox2.south east) -| (ox.south east);
    \draw[branch] (ox3.south east) -| (ox.south east);
    \draw[branch] (ox4.south east) -| (ox.south east);
    \draw[branch] (ox5.south east) -| (ox.south east);
    \draw[branch] (ox6.south east) -| (ox.south east);
    \draw[branch] (ox1a.south east) -| (ox1.south east);
    \draw[branch] (ox2a.south east) -| (ox2.south east);
    \draw[branch] (ox2b.south east) -| (ox2a.south east);
    \draw[branch] (de2a.south east) -| (de2.south east);
    \draw[branch] (de3a.south east) -| (de3.south east);
    \draw[branch] (de3b.south east) -| (de3a.south east);
    \draw[branch] (me1.south east) -| (me.south east);
    \draw[branch] (me2.south east) -| (me.south east);
    \draw[branch] (me3.south east) -| (me.south east);
    \draw[branch] (ne.south east) -| (me.south east);
    \draw[branch] (me4.south east) -| (me.south east);
    \draw[branch] (me5.south east) -| (me.south east);
    \draw[branch] (sd.south east) -| (me.south east);
    \draw[branch] (ne1.south east) -| (ne.south east);
    \draw[branch] (ne2.south east) -| (ne.south east);
    \draw[branch] (ne3.south east) -| (ne.south east);
    \draw[branch] (ne4.south east) -| (ne.south east);
    \draw[branch] (ne5.south east) -| (ne.south east);
    \draw[branch] (ne2a.south east) -| (ne2.south east);
    \draw[branch] (sd1.south east) -| (sd.south east);
    \draw[branch] (sd2.south east) -| (sd.south east);
    \draw[branch] (sd3.south east) -| (sd.south east);
    \draw[branch] (sd4.south east) -| (sd.south east);
    \draw[branch] (sd5.south east) -| (sd.south east);
    \draw[branch] (sd6.south east) -| (sd.south east);
    \draw[branch] (sd7.south east) -| (sd.south east);

    \draw[branch] (st.east) -- (stf.west);
    \draw[branch] (st1.south east) -| (stf.east);
    \draw[branch] (st2.south east) -| (stf.east);
    \draw[branch] (em.south east) -| (stf.east);
    \draw[branch] (cm.south east) -| (stf.east);
    \draw[branch] (st3.south east) -| (stf.east);
    \draw[branch] (st4.south east) -| (stf.east);
    \draw[branch] (in.south east) -| (stf.east);
    \draw[branch] (st5.south east) -| (stf.east);
    \draw[branch] (st6.south east) -| (stf.east);
    \draw[branch] (st7.south east) -| (stf.east);
    \draw[branch] (sy.south east) -| (stf.east);
    \draw[branch] (st8.south east) -| (stf.east);
    \draw[branch] (st9.south east) -| (stf.east);
    \draw[branch] (st10.south east) -| (stf.east);
    \draw[branch] (em1.south east) -| (em.south east);
    \draw[branch] (em2.south east) -| (em.south east);
    \draw[branch] (em3.south east) -| (em.south east);
    \draw[branch] (em4.south east) -| (em.south east);
    \draw[branch] (em5.south east) -| (em.south east);
    \draw[branch] (cm1.south east) -| (cm.south east);
    \draw[branch] (cm2.south east) -| (cm.south east);
    \draw[branch] (cm2a.south east) -| (cm2.south east);
    \draw[branch] (cm2b.south east) -| (cm2.south east);
    \draw[branch] (st4a.south east) -| (st4.south east);
    \draw[branch] (st4b.south east) -| (st4.south east);
    \draw[branch] (in1.south east) -| (in.south east);
    \draw[branch] (in2.south east) -| (in.south east);
    \draw[branch] (in2a.south east) -| (in2.south east);
    \draw[branch] (st6a.south east) -| (st6.south east);
    \draw[branch] (st7a.south east) -| (st7.south east);
    \draw[branch] (sy1.south east) -| (sy.south east);
    \draw[branch] (sy2.south east) -| (sy.south east);

    \draw[branch] (fl.east) -- (flf.west);
    \draw[branch] (fl1.south east) -| (flf.east);
    \draw[branch] (fl2.south east) -| (flf.east);
    \draw[branch] (fl3.south east) -| (flf.east);
    \draw[branch] (fl4.south east) -| (flf.east);
    \draw[branch] (fl5.south east) -| (flf.east);
    \draw[branch] (fl6.south east) -| (flf.east);
    \draw[branch] (fl2a.south east) -| (fl2.south east);

    \coordinate (mendc) at (3798,2240);
    \draw[curve] (un.east) .. controls +(60,0) and +(-40,-1500) .. (mendc);
    \draw[curve] (tr.east) .. controls +(60,0) and +(-158,-340) .. (mendc);
    \draw[curve] (co.east) .. controls +(60,0) and +(-150,260) .. (mendc);
    \draw[curve] (ab.east) .. controls +(50,0) and +(-110,760) .. (mendc);
    \draw[curve] (bt.east) .. controls +(50,0) and +(-90,1160) .. (mendc);
    \draw[curve] (gl.west) .. controls +(-60,0) and +(80,-740) .. (mendc);
    \draw[curve] (en.west) .. controls +(-80,0) and +(80,-340) .. (mendc);
    \draw[curve] (de.west) .. controls +(-100,0) and +(130,-90) .. (mendc);
    \draw[curve] (st.west) .. controls +(-80,0) and +(90,360) .. (mendc);
    \draw[curve] (fl.west) .. controls +(-70,0) and +(80,560) .. (mendc);
    \node (mend)[central] at (mendc) {M.E.N.D. per IFM Matrix};
\end{tikzpicture}
\end{document}
